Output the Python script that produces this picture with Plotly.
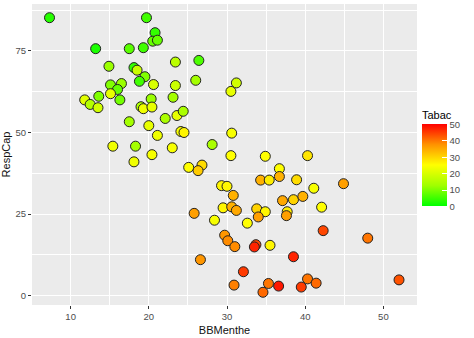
import plotly.graph_objects as go

bbmenthe = [7.3, 19.7, 20.8, 20.5, 21.1, 13.2, 17.5, 19.3, 23.4, 14.9,
            18.1, 18.5, 19.5, 18.8, 15.1, 16.5, 16.0, 20.6, 23.4, 15.1,
            13.6, 11.8, 12.5, 13.5, 16.3, 20.3, 23.1, 19.0, 19.3, 20.4,
            22.1, 23.6, 17.5, 20.0, 21.1, 24.1, 24.5, 15.4, 18.3, 23.0,
            20.4, 18.1, 25.1, 26.4, 26.0, 31.2, 30.5, 24.4, 30.6, 28.1,
            30.5, 34.9, 40.3, 26.8, 26.3, 36.7, 36.7, 34.3, 35.4, 38.9,
            29.3, 30.0, 41.1, 30.8, 37.1, 38.5, 39.7, 42.1, 25.8, 29.5,
            30.6, 31.2, 33.8, 34.9, 34.0, 37.7, 37.6, 28.4, 32.6, 29.7,
            30.1, 31.0, 33.7, 33.5, 35.5, 26.6, 38.5, 32.1, 30.9, 34.6,
            35.3, 36.6, 39.5, 40.3, 41.4, 44.9, 42.3, 48.0, 52.0]
respcap = [85.2, 85.2, 80.6, 78.0, 78.3, 75.7, 75.7, 76.0, 71.6, 70.3,
           69.9, 69.1, 67.1, 65.7, 64.6, 65.0, 63.2, 64.7, 64.4, 61.9,
           61.1, 60.0, 58.6, 57.6, 60.0, 60.3, 60.8, 57.9, 57.3, 57.8,
           54.3, 55.2, 53.3, 52.1, 49.1, 50.3, 50.0, 45.8, 45.8, 45.3,
           43.2, 41.0, 39.3, 72.1, 66.0, 65.2, 62.6, 56.5, 49.8, 46.3,
           42.9, 42.7, 42.9, 40.0, 38.3, 38.9, 36.5, 35.4, 35.4, 35.5,
           33.7, 33.5, 32.9, 30.7, 29.1, 29.4, 30.4, 27.1, 25.2, 26.9,
           27.2, 26.1, 26.6, 25.7, 24.1, 25.7, 24.5, 23.1, 22.2, 18.5,
           16.8, 15.0, 15.6, 14.9, 15.4, 11.0, 11.9, 7.3, 3.2, 1.0,
           3.7, 2.9, 2.6, 5.1, 3.8, 34.3, 19.9, 17.6, 4.8]
tabac = [3, 5, 4, 8, 8, 2, 7, 5, 16, 12,
         4, 18, 10, 5, 10, 12, 8, 20, 18, 22,
         10, 21, 15, 19, 9, 12, 13, 14, 23, 22,
         14, 22, 13, 22, 23, 24, 26, 23, 13, 24,
         24, 23, 25, 6, 13, 19, 22, 14, 24, 14,
         25, 25, 28, 29, 31, 25, 34, 34, 27, 29,
         26, 26, 24, 34, 35, 30, 34, 25, 36, 26,
         34, 35, 30, 26, 36, 27, 36, 24, 25, 37,
         38, 38, 44, 47, 26, 37, 47, 45, 39, 41,
         40, 48, 45, 40, 41, 36, 44, 40, 43]

FONT = "Liberation Sans, Arial, sans-serif"

fig = go.Figure()
fig.add_trace(go.Scatter(
    x=bbmenthe, y=respcap, mode="markers",
    marker=dict(
        size=10, color=tabac, cmin=0, cmax=50,
        colorscale=[[0, "#00FF00"], [0.25, "#A0FF00"], [0.5, "#FFFF00"],
                    [0.75, "#FF9200"], [1, "#FF0000"]],
        line=dict(color="#222222", width=1),
        showscale=True,
        colorbar=dict(
            title=dict(text="Tabac", side="top",
                       font=dict(family=FONT, size=11, color="#000000")),
            thickness=25, len=99, lenmode="pixels",
            x=1.013, xanchor="left", xpad=0,
            y=0.492, yanchor="middle", ypad=0,
            outlinewidth=0,
            tickvals=[0, 10, 20, 30, 40, 50],
            ticks="inside", ticklen=5, tickcolor="white",
            tickfont=dict(family=FONT, size=9.5, color="#4D4D4D"),
        ),
    ),
    showlegend=False,
))

axis_common = dict(
    showgrid=True, gridcolor="white", gridwidth=1.2,
    zeroline=False, showline=False,
    ticks="outside", ticklen=3, tickcolor="#333333", tickwidth=1,
    tickfont=dict(family=FONT, size=9.5, color="#4D4D4D"),
)

fig.update_layout(
    width=474, height=338,
    margin=dict(l=32, r=57, t=4, b=33),
    paper_bgcolor="white", plot_bgcolor="#EBEBEB",
    font=dict(family=FONT),
    xaxis=dict(range=[5.06, 54.3], tickvals=[10, 20, 30, 40, 50],
               title=dict(text="BBMenthe", standoff=4,
                          font=dict(family=FONT, size=11, color="#111111")),
               minor=dict(showgrid=True, gridcolor="white", gridwidth=0.6,
                          tickvals=[5, 15, 25, 35, 45]),
               **axis_common),
    yaxis=dict(range=[-2.9, 89.4], tickvals=[0, 25, 50, 75],
               title=dict(text="RespCap", standoff=2,
                          font=dict(family=FONT, size=11, color="#111111")),
               minor=dict(showgrid=True, gridcolor="white", gridwidth=0.6,
                          tickvals=[12.5, 37.5, 62.5, 87.5]),
               **axis_common),
)

fig.write_html("out.html")
